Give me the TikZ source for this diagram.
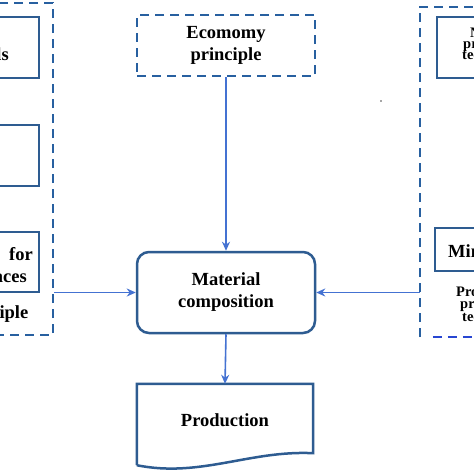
\documentclass[tikz,border=0pt]{standalone}
\usepackage{fontspec}
\setmainfont{Liberation Serif}
\usetikzlibrary{arrows.meta}
\definecolor{boxblue}{RGB}{46,92,145}
\definecolor{dashblue}{RGB}{40,96,160}
\definecolor{arrowblue}{RGB}{68,114,210}
\definecolor{brightdash}{RGB}{40,70,210}
\begin{document}
\begin{tikzpicture}[x=1pt,y=-1pt,
  dashbox/.style={draw=dashblue, line width=2.5pt, dash pattern=on 9pt off 6pt, inner sep=0pt},
  solidbox/.style={draw=boxblue, line width=2.5pt, inner sep=0pt},
  plain/.style={inner sep=0pt},
  arr/.style={draw=arrowblue, line width=1.6pt, -{Stealth[length=9pt,width=8pt]}},
  bigtext/.style={font=\fontsize{18.5}{22}\selectfont\bfseries, align=center, inner sep=0pt},
  smalltext/.style={font=\fontsize{14.5}{12.5}\selectfont\bfseries, inner sep=0pt}]
\useasboundingbox (0,0) rectangle (474,474);
\clip (0,0) rectangle (474,474);
\fill[white] (0,0) rectangle (474,474);

% centre column
\node[dashbox, bigtext, minimum width=178pt, minimum height=61pt] (eco) at (226,45.5) {Ecomomy\\principle};
\node[solidbox, bigtext, rounded corners=12pt, minimum width=178pt, minimum height=81pt] (mat) at (226,292.5) {Material\\composition};
\node[plain, minimum width=176pt, minimum height=69pt] (prod) at (225,418.5) {};
\node[bigtext] (prodtext) at (225,420) {Production};
\draw[solidbox] ([yshift=-12pt]prod.south west) -- (prod.north west) -- (prod.north east) -- (prod.south east)
  .. controls (250,450) and (200,478) .. ([yshift=-12pt]prod.south west);

% left container
\node[dashbox, minimum width=73pt, minimum height=332pt] (lc) at (16.5,169) {};
\node[solidbox, minimum width=59pt, minimum height=61pt] (lb1) at (9.5,47.5) {};
\node[solidbox, minimum width=59pt, minimum height=61pt] (lb2) at (9.5,155.5) {};
\node[solidbox, minimum width=59pt, minimum height=60pt] (lb3) at (9.5,262) {};
\node[bigtext, anchor=base east] (lt1) at (9,60) {Materials};
\node[bigtext, anchor=base east] (lt3a) at (33,260) {for};
\node[bigtext, anchor=base east] (lt3b) at (27,282) {surfaces};
\node[bigtext, anchor=base east] (lt4) at (28.5,318) {Principle};

% right container
\node[plain, minimum width=90pt, minimum height=330pt] (rc) at (465,172) {};
\draw[dashbox] (rc.south west) -- (rc.north west) -- (rc.north east);
\draw[draw=brightdash, line width=2pt, dash pattern=on 9pt off 6pt] ([xshift=13pt]rc.south west) -- (rc.south east);
\node[solidbox, minimum width=83pt, minimum height=61pt] (rb1) at (478.5,47.5) {};
\node[solidbox, minimum width=85pt, minimum height=43pt] (rb2) at (477.5,249.5) {};
\node[smalltext, anchor=base west] (rt1) at (470,37) {New};
\node[smalltext, anchor=base west] (rt2) at (463,48) {process};
\node[smalltext, anchor=base west] (rt3) at (462,59) {technology};
\node[bigtext, anchor=base west] (rt4) at (448,257) {Minimization};
\node[smalltext, anchor=base west] (rt5) at (456,296) {Process};
\node[smalltext, anchor=base west] (rt6) at (460,308.5) {principle};
\node[smalltext, anchor=base west] (rt7) at (462,321) {technology};

% stray dot
\fill[black!70] (381,101) circle (0.9);

% connectors
\draw[arr] (eco.south) -- (mat.north);
\draw[arr] (mat.south) -- (prod.north);
\draw[arr] (mat.west -| lc.east) -- (mat.west);
\draw[arr] (mat.east -| rc.west) -- (mat.east);
\end{tikzpicture}
\end{document}
